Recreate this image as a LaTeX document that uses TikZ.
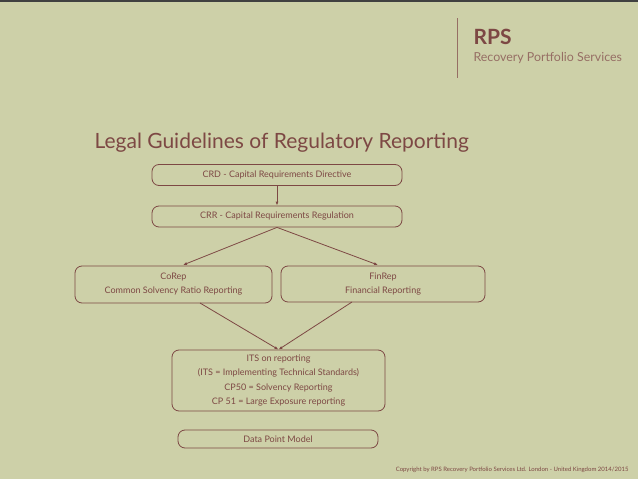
\documentclass[tikz,border=0pt]{standalone}
\usepackage{fontspec}
\setmainfont{Lato}
\usetikzlibrary{arrows.meta}
\definecolor{bg}{RGB}{205,208,168}
\definecolor{br}{RGB}{125,72,68}
\definecolor{lbr}{RGB}{150,110,100}
\begin{document}
\begin{tikzpicture}[x=1pt,y=-1pt,
 box/.style={draw=br,line width=0.8pt,rounded corners=7pt,text=br,font=\fontsize{9}{11}\selectfont,align=center,inner sep=0pt},
 arr/.style={draw=br,line width=0.8pt,-{Latex[length=4pt,width=3pt]}}]
\fill[bg] (0,0) rectangle (638,479);
\fill[black!75] (0,0) rectangle (638,2);
\useasboundingbox (0,0) rectangle (638,479);
\draw[lbr,line width=0.8pt] (457,18) -- (457,78);
\node[anchor=west,text=br,font=\fontsize{21}{21}\selectfont\bfseries] (rps) at (470,37) {RPS};
\node[anchor=west,text=lbr,font=\fontsize{12.4}{12.4}\selectfont] (rpss) at (470,58) {Recovery Portfolio Services};
\node[anchor=base west,text=br,font=\fontsize{21}{21}\selectfont] (title) at (91,148) {Legal Guidelines of Regulatory Reporting};
\node[box,minimum width=250pt,minimum height=21pt] (crd) at (277,175) {CRD - Capital Requirements Directive};
\node[box,minimum width=250pt,minimum height=21pt] (crr) at (277,216.5) {CRR - Capital Requirements Regulation};
\node[box,minimum width=197pt,minimum height=37pt,font=\fontsize{9}{14}\selectfont] (corep) at (173.5,284.5) {CoRep\\Common Solvency Ratio Reporting};
\node[box,minimum width=204pt,minimum height=36pt,font=\fontsize{9}{14}\selectfont] (finrep) at (383,284) {FinRep\\Financial Reporting};
\node[box,minimum width=213pt,minimum height=61pt,font=\fontsize{9}{14.2}\selectfont] (its) at (278.5,380.5) {ITS on reporting\\(ITS = Implementing Technical Standards)\\CP50 = Solvency Reporting\\CP 51 = Large Exposure reporting};
\node[box,minimum width=200pt,minimum height=18pt] (dpm) at (278,439) {Data Point Model};
\draw[arr] (crd.south) -- (crr.north);
\draw[arr] (crr.south) -- (183,265);
\draw[arr] (crr.south) -- (378,265);
\draw[arr] (200,303) -- (its.north);
\draw[arr] (352,302) -- (its.north);
\node[anchor=base east,text=br,font=\fontsize{6}{6}\selectfont] (copy) at (632,471) {Copyright by RPS Recovery Portfolio Services Ltd. London - United Kingdom 2014/2015};
\end{tikzpicture}
\end{document}
